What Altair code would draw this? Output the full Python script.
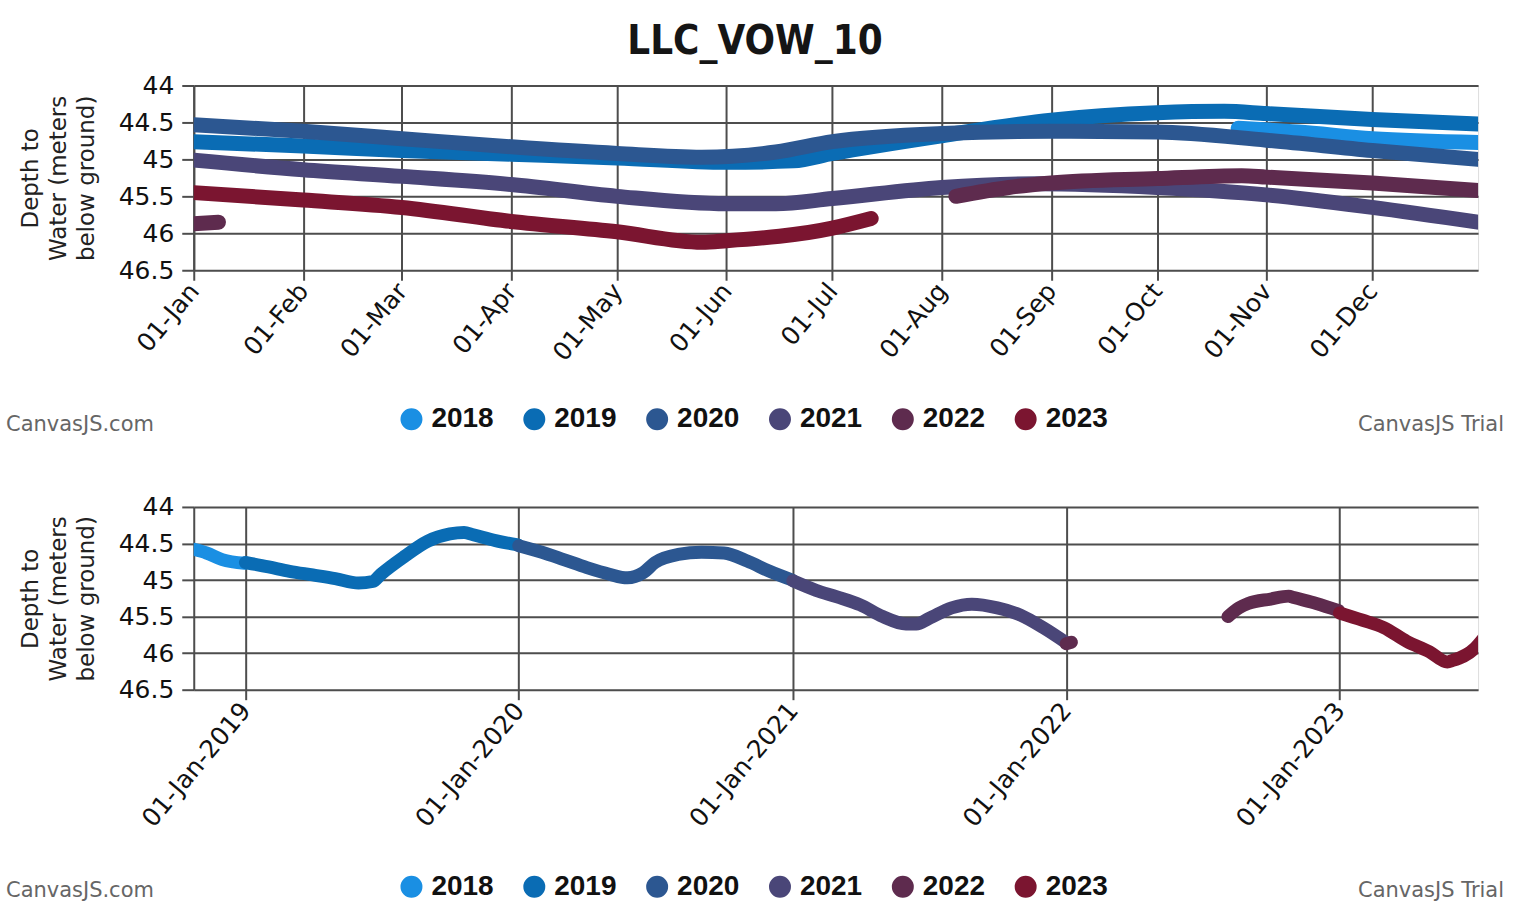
import altair as alt
import pandas as pd

# ---------------- data ----------------
years = ["2018", "2019", "2020", "2021", "2022", "2023"]
colors = ["#1A8FE3", "#0A6CB4", "#2C5791", "#4A4678", "#5E2B4E", "#7B1530"]

d2018 = ["2018-10-24", "2018-11-10", "2018-12-01", "2018-12-31"]
v2018 = [44.58, 44.63, 44.72, 44.77]

d2019 = ["2019-01-01", "2019-02-01", "2019-03-01", "2019-04-01", "2019-05-01",
         "2019-06-01", "2019-06-20", "2019-07-01", "2019-08-01", "2019-09-01",
         "2019-10-01", "2019-10-20", "2019-11-01", "2019-12-01", "2019-12-31"]
v2019 = [44.76, 44.82, 44.88, 44.93, 44.98, 45.04, 45.02, 44.92, 44.68, 44.47,
         44.37, 44.35, 44.38, 44.46, 44.52]

d2020 = ["2020-01-01", "2020-02-01", "2020-03-01", "2020-04-01", "2020-05-01",
         "2020-05-25", "2020-06-15", "2020-07-01", "2020-08-01", "2020-09-01",
         "2020-10-01", "2020-11-01", "2020-12-01", "2020-12-31"]
v2020 = [44.53, 44.62, 44.72, 44.83, 44.92, 44.97, 44.90, 44.76, 44.65, 44.62,
         44.63, 44.74, 44.88, 45.00]

d2021 = ["2021-01-01", "2021-02-01", "2021-03-01", "2021-04-01", "2021-05-01",
         "2021-06-01", "2021-06-15", "2021-07-01", "2021-08-01", "2021-08-28",
         "2021-10-01", "2021-11-01", "2021-12-01", "2021-12-31"]
v2021 = [45.01, 45.14, 45.23, 45.34, 45.50, 45.60, 45.60, 45.53, 45.38, 45.33,
         45.38, 45.48, 45.65, 45.85]

d2022a = ["2022-01-01", "2022-01-08"]
v2022a = [45.87, 45.85]
d2022b = ["2022-08-05", "2022-08-20", "2022-09-01", "2022-10-01", "2022-10-25",
          "2022-11-01", "2022-12-01", "2022-12-31"]
v2022b = [45.50, 45.38, 45.32, 45.26, 45.22, 45.24, 45.32, 45.42]

d2023 = ["2023-01-01", "2023-02-01", "2023-03-01", "2023-04-01", "2023-05-01",
         "2023-05-25", "2023-06-01", "2023-07-01", "2023-07-12"]
v2023 = [45.45, 45.55, 45.65, 45.84, 45.98, 46.12, 46.10, 45.93, 45.80]

y_ticks = [44, 44.5, 45, 45.5, 46, 46.5]
y_title = ["Depth to", "Water (meters", "below ground)"]
chart_title = "LLC_VOW_10"
wm_left_text = ["CanvasJS.com"]
wm_right_text = ["CanvasJS Trial"]

series = [
    ("2018", "2018", d2018, v2018),
    ("2019", "2019", d2019, v2019),
    ("2020", "2020", d2020, v2020),
    ("2021", "2021", d2021, v2021),
    ("2022", "2022a", d2022a, v2022a),
    ("2022", "2022b", d2022b, v2022b),
    ("2023", "2023", d2023, v2023),
]
rows = []
for yr, seg, ds, vs in series:
    for d, v in zip(ds, vs):
        rows.append({"year": yr, "seg": seg, "date": d, "depth": v})
df = pd.DataFrame(rows)
# day-of-year overlay: same month/day on a common (non-leap) year
df["doy"] = "2021" + df["date"].str[4:]

# ---------------- styling ----------------
FONT = "DejaVu Sans"
BOLD = "Liberation Sans"
NARROW = "Liberation Sans Narrow, DejaVu Sans Condensed, sans-serif"
GRID = "#4d4d4d"
PW = 1286

yscale = alt.Scale(domain=[44, 46.5], reverse=True, nice=False, zero=False)


def y_axis():
    return alt.Axis(values=y_ticks, format="~g", title=y_title, titleFont=FONT,
                    titleFontSize=23, titleFontWeight="normal", titleLineHeight=28,
                    titlePadding=20, titleColor="#222", labelFont=FONT,
                    labelFontSize=25, labelColor="#111", labelPadding=8,
                    tickSize=12, tickWidth=2, tickColor=GRID, grid=True,
                    gridColor=GRID, gridWidth=2, domain=True, domainColor=GRID,
                    domainWidth=2)


def legend(ly):
    return alt.Legend(orient="none", legendX=204, legendY=ly, direction="horizontal",
                      title=None, symbolType="circle", symbolSize=121,
                      symbolStrokeWidth=11, labelFont=BOLD, labelFontSize=28,
                      labelFontWeight="bold", labelColor="#111", labelOffset=6,
                      columnPadding=12)


def color(ly):
    return alt.Color("year:N", scale=alt.Scale(domain=years, range=colors),
                     legend=legend(ly))


def watermarks(ypos):
    left = alt.Chart(pd.DataFrame({"t": wm_left_text})).mark_text(
        align="left", baseline="middle", font=FONT, fontSize=21, color="#666"
    ).encode(text="t:N", x=alt.value(-188), y=alt.value(ypos))
    right = alt.Chart(pd.DataFrame({"t": wm_right_text})).mark_text(
        align="right", baseline="middle", font=FONT, fontSize=21, color="#666"
    ).encode(text="t:N", x=alt.value(1312), y=alt.value(ypos))
    return left, right


def x_axis(fmt, count):
    return alt.Axis(format=fmt, tickCount=count, labelAngle=-50, labelFont=FONT,
                    labelFontSize=25, labelColor="#111", labelPadding=6,
                    tickSize=10, tickWidth=2, tickColor=GRID, grid=True,
                    gridColor=GRID, gridWidth=2, domain=False, labelOverlap=False)


# ---------------- top: day-of-year overlay ----------------
top_lines = alt.Chart(df).mark_line(
    strokeWidth=15, strokeCap="round", strokeJoin="round",
    interpolate="monotone", clip=True
).encode(
    x=alt.X("doy:T", title=None,
            scale=alt.Scale(type="utc", domain=[
                alt.DateTime(year=2021, month=1, date=1, utc=True),
                alt.DateTime(year=2021, month=12, date=31, utc=True)]),
            axis=x_axis("%d-%b", "month")),
    y=alt.Y("depth:Q", scale=yscale, axis=y_axis()),
    color=color(320),
    detail="seg:N",
)
tl, tr = watermarks(340)
top = alt.layer(top_lines, tl, tr).properties(
    width=PW, height=185,
    title=alt.TitleParams(chart_title, anchor="middle", frame="bounds", font=NARROW,
                          fontSize=40, fontWeight="bold", color="#151515", offset=12),
)

# ---------------- bottom: full time series ----------------
bot_lines = alt.Chart(df).mark_line(
    strokeWidth=13, strokeCap="round", strokeJoin="round",
    interpolate="monotone", clip=True
).encode(
    x=alt.X("date:T", title=None,
            scale=alt.Scale(type="utc", domain=[
                alt.DateTime(year=2018, month=10, date=24, utc=True),
                alt.DateTime(year=2023, month=7, date=5, utc=True)]),
            axis=x_axis("%d-%b-%Y", "year")),
    y=alt.Y("depth:Q", scale=yscale, axis=y_axis()),
    color=color(366),
    detail="seg:N",
)
bl, br = watermarks(385)
bottom = alt.layer(bot_lines, bl, br).properties(width=PW, height=183)

chart = alt.vconcat(top, bottom, spacing=46).resolve_scale(
    color="independent"
).resolve_legend(color="independent").properties(
    padding={"left": 5, "top": 20, "right": 31, "bottom": 5}
).configure_view(stroke="transparent").configure(background="white")

chart.save("out.html", embed_options={"renderer": "svg", "actions": False})
